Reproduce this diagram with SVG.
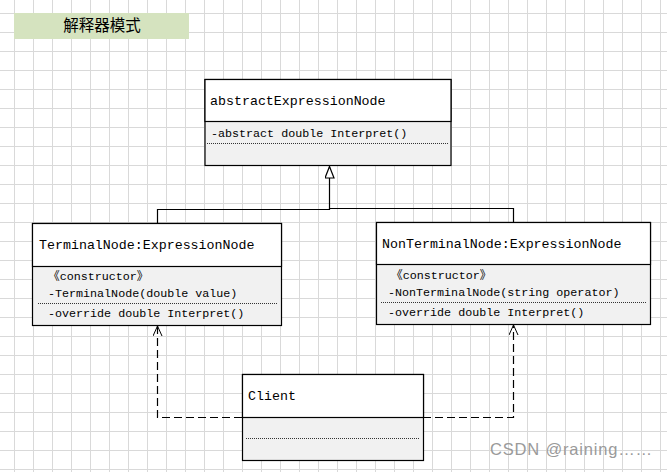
<svg xmlns="http://www.w3.org/2000/svg" width="667" height="472" viewBox="0 0 667 472">
<defs>
<pattern id="grid" x="14" y="13" width="19" height="19" patternUnits="userSpaceOnUse">
<path d="M0.5 0V19M0 0.5H19" stroke="#d9d9d9" stroke-width="1" fill="none"/>
</pattern>
<marker id="open" markerWidth="12" markerHeight="12" refX="10" refY="5" orient="auto" markerUnits="userSpaceOnUse">
<path d="M0 0.5L10 5L0 9.5" fill="none" stroke="#000" stroke-width="1"/>
</marker>
<marker id="tri" markerWidth="14" markerHeight="12" refX="12" refY="5" orient="auto" markerUnits="userSpaceOnUse">
<path d="M0.5 0.5L12 5L0.5 9.5Z" fill="#fff" stroke="#000" stroke-width="1.2"/>
</marker>
</defs>
<style>
.hdr{fill:#fff;stroke:#000;stroke-width:1.2}
.body{fill:#f1f1f1;stroke:#000;stroke-width:1.2}
.sep{stroke:#333;stroke-width:1;stroke-dasharray:1 1;fill:none}
.t{font-family:"Liberation Mono","Noto Sans CJK SC",monospace;font-size:13.3px;fill:#000}
.m{font-family:"Liberation Mono","Noto Sans CJK SC",monospace;font-size:11.7px;fill:#000}
.conn{fill:none;stroke:#000;stroke-width:1.2}
.dash{stroke-dasharray:8 4}
</style>
<rect width="667" height="472" fill="#fff"/>
<rect width="667" height="472" fill="url(#grid)"/>

<g id="title">
<rect x="14" y="13" width="175" height="26" fill="#d5e3bf"/>
<text x="102" y="31" text-anchor="middle" font-family="Noto Sans CJK SC,sans-serif" font-size="15.5" fill="#000">解释器模式</text>
</g>

<g id="connectors">
<path class="conn" d="M157.5 223V209.5H329.5V208.5" />
<path class="conn" d="M513.5 222V208.5H329.5V166.5" marker-end="url(#tri)"/>
<path class="conn dash" d="M242 417.5H157.5V326" marker-end="url(#open)"/>
<path class="conn dash" d="M423 417.5H513.5V325" marker-end="url(#open)"/>
</g>

<g id="abstractExpressionNode">
<rect class="body" x="205" y="79.5" width="246" height="86"/>
<rect class="hdr" x="205" y="79.5" width="246" height="42"/>
<text class="t" x="210" y="105">abstractExpressionNode</text>
<text class="m" x="211" y="137">-abstract double Interpret()</text>
<line class="sep" x1="207" y1="143.5" x2="449" y2="143.5"/>
</g>

<g id="TerminalNode">
<rect class="body" x="32.5" y="223.5" width="249" height="102"/>
<rect class="hdr" x="32.5" y="223.5" width="249" height="43"/>
<text class="t" x="39" y="249">TerminalNode:ExpressionNode</text>
<text class="m" x="48" y="280">《constructor》</text>
<text class="m" x="48" y="297">-TerminalNode(double value)</text>
<line class="sep" x1="38" y1="303.5" x2="278" y2="303.5"/>
<text class="m" x="48" y="317">-override double Interpret()</text>
</g>

<g id="NonTerminalNode">
<rect class="body" x="376.5" y="222.5" width="274" height="102"/>
<rect class="hdr" x="376.5" y="222.5" width="274" height="42"/>
<text class="t" x="382" y="248">NonTerminalNode:ExpressionNode</text>
<text class="m" x="391" y="279">《constructor》</text>
<text class="m" x="388" y="296">-NonTerminalNode(string operator)</text>
<line class="sep" x1="381" y1="302.5" x2="647" y2="302.5"/>
<text class="m" x="388" y="316">-override double Interpret()</text>
</g>

<g id="Client">
<rect class="body" x="242.5" y="374.5" width="181" height="86"/>
<rect class="hdr" x="242.5" y="374.5" width="181" height="43"/>
<text class="t" x="248" y="400">Client</text>
<line class="sep" x1="246" y1="438.5" x2="419" y2="438.5"/>
</g>

<text x="490" y="455" font-family="Liberation Sans,Arial,sans-serif" font-size="16.5" fill="#9a9a9a" textLength="162" lengthAdjust="spacing">CSDN @raining……</text>
</svg>
